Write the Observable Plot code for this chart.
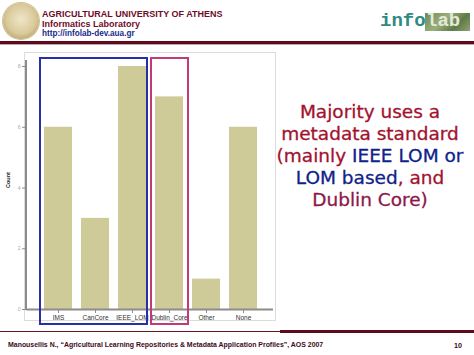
<!DOCTYPE html>
<html><head><meta charset="utf-8">
<script src="https://cdn.jsdelivr.net/npm/d3@7"></script>
<script src="https://cdn.jsdelivr.net/npm/@observablehq/plot@0.6"></script>
<style>
html,body{margin:0;padding:0}
body{width:474px;height:355px;position:relative;overflow:hidden;background:#fff;font-family:"Liberation Sans",Arial,sans-serif}
.abs{position:absolute;white-space:nowrap}
#chart{position:absolute;left:0;top:50px}
#chart svg{overflow:visible}
</style></head><body>

<!-- header -->
<div class="abs" style="left:3px;top:3px;width:36px;height:36px;border-radius:50%;background:radial-gradient(circle at 50% 45%,#efe6c8 0%,#d9c99a 55%,#b8a46a 80%,#e9dfc0 100%);box-shadow:0 0 0 1px #cdbf8f"></div>
<div class="abs" style="left:42px;top:9px;font-weight:bold;font-size:9px;color:#6e0c2a">AGRICULTURAL UNIVERSITY OF ATHENS</div>
<div class="abs" style="left:42px;top:19px;font-weight:bold;font-size:9px;color:#6e0c2a">Informatics Laboratory</div>
<div class="abs" style="left:42px;top:29px;font-weight:bold;font-size:8.2px;color:#1a2a8c">http://infolab-dev.aua.gr</div>
<div class="abs" style="left:380px;top:10px;font-family:'Liberation Mono','DejaVu Sans Mono',monospace;font-size:19px;color:#2e8a82;font-weight:bold">info</div>
<div class="abs" style="left:425px;top:13px;width:45px;height:18px;background:linear-gradient(135deg,#6f8a55,#9aae7c 40%,#5f7a48 70%,#8ea270);"></div>
<div class="abs" style="left:426px;top:10px;font-family:'Liberation Mono','DejaVu Sans Mono',monospace;font-size:19px;color:#e4ead8;font-weight:bold">lab</div>
<div class="abs" style="left:0;top:41px;width:474px;height:3px;background:#5c0a1c"></div>
<div class="abs" style="left:0;top:44px;width:474px;height:1px;background:#b9a9a9"></div>

<!-- chart panel border -->
<div class="abs" style="left:24px;top:52px;width:250px;height:267px;border:1px solid #dcdcdc"></div>
<div id="chart"></div>

<!-- right text -->
<div class="abs" style="left:272px;top:101px;width:196px;text-align:center;font-family:'DejaVu Sans',sans-serif;font-size:18.5px;line-height:22px;color:#a3122e;white-space:nowrap;-webkit-text-stroke:0.3px currentColor">
Majority uses a<br>metadata standard<br>(mainly <span style="color:#10228a">IEEE LOM or</span><br><span style="color:#10228a">LOM based</span>, and<br><span style="color:#8c1848">Dublin Core)</span>
</div>

<!-- footer -->
<div class="abs" style="left:0;top:331px;width:280px;height:1px;background:#6a1424"></div>
<div class="abs" style="left:280px;top:330px;width:194px;height:3px;background:#5c0a1c"></div>
<div class="abs" style="left:8px;top:341px;font-weight:bold;font-size:6.95px;color:#3c0a18">Manousellis N., “Agricultural Learning Repositories &amp; Metadata Application Profiles”, AOS 2007</div>
<div class="abs" style="left:454px;top:341px;font-weight:bold;font-size:7.2px;color:#3c0a18">10</div>

<script>
const categories = ["IMS", "CanCore", "IEEE_LOM", "Dublin_Core", "Other", "None"];
const counts = [6, 3, 8, 7, 1, 6];
const yTicks = [0, 2, 4, 6, 8];
const yLabel = "Count";
const groupBlue = ["IMS", "IEEE_LOM"];
const groupPink = ["Dublin_Core", "Dublin_Core"];

const data = categories.map((c, i) => ({category: c, count: counts[i]}));

function boxMark(range, color, padL, padR) {
  return (index, scales, values, dims) => {
    const x = scales.x;
    const bw = x.bandwidth ? x.bandwidth() : 28;
    const x0 = x(range[0]) - padL;
    const x1 = x(range[1]) + bw + padR;
    const r = d3.create("svg:rect")
      .attr("x", x0).attr("y", dims.marginTop - 8)
      .attr("width", x1 - x0)
      .attr("height", dims.height - dims.marginBottom + 15 - (dims.marginTop - 8))
      .attr("fill", "none").attr("stroke", color).attr("stroke-width", 2);
    return r.node();
  };
}
function yLine(index, scales, values, dims) {
  return d3.create("svg:line")
    .attr("x1", dims.marginLeft).attr("x2", dims.marginLeft)
    .attr("y1", dims.marginTop - 6).attr("y2", dims.height - dims.marginBottom)
    .attr("stroke", "#8c8c8c").attr("stroke-width", 2).node();
}

const plot = Plot.plot({
  width: 282,
  height: 280,
  marginLeft: 26,
  marginRight: 9,
  marginTop: 16,
  marginBottom: 21,
  style: {background: "transparent", fontFamily: "Liberation Sans, Arial, sans-serif"},
  x: {domain: categories, paddingInner: 0.25, paddingOuter: 0.25, insetLeft: 7.7, insetRight: 6.8, label: null},
  y: {domain: [0, 8], label: null},
  marks: [
    Plot.barY(data, {x: "category", y: "count", fill: "#cfcb98"}),
    Plot.ruleY([0], {stroke: "#8c8c8c", strokeWidth: 2}),
    yLine,
    Plot.axisY(yTicks, {tickSize: 4, tickPadding: 2, fontSize: 5, color: "#a8a8a8", stroke: "#8c8c8c", label: null}),
    Plot.axisX({tickSize: 4, tickPadding: 2, fontSize: 6.5, color: "#333", stroke: "#8c8c8c", label: null}),
    Plot.text([yLabel], {frameAnchor: "left", dx: -18, rotate: -90, fontSize: 5.5, fontWeight: "bold", fill: "#222"}),
    boxMark(groupBlue, "#2b2fa6", 4, 1),
    boxMark(groupPink, "#c23a78", 4, 5)
  ]
});
document.getElementById("chart").appendChild(plot);
</script>
</body></html>
